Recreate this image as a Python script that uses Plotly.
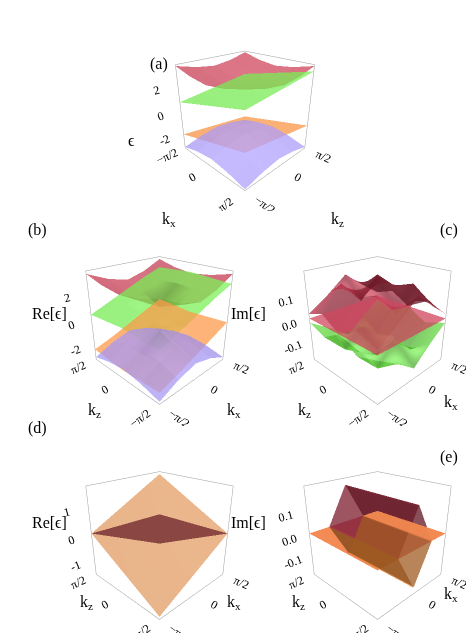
import plotly.graph_objects as go

# grid (both momenta) shared by all panels
k = [-1.571, -0.785, 0.0, 0.785, 1.571]
pi_ticks = [-1.571, 0, 1.571]
pi_text = ["−π/2", "0", "π/2"]

# (a) energies
a_red = [[3.4, 3.0, 2.8, 3.0, 3.4], [3.0, 2.6, 2.4, 2.6, 3.0], [2.8, 2.4, 2.1, 2.4, 2.8],
         [3.0, 2.6, 2.4, 2.6, 3.0], [3.4, 3.0, 2.8, 3.0, 3.4]]
a_green = [[0.6, 1.0, 1.4, 1.8, 2.2], [0.8, 1.2, 1.6, 2.0, 2.4], [1.0, 1.4, 1.8, 2.2, 2.6],
           [1.2, 1.6, 2.0, 2.4, 2.8], [1.4, 1.8, 2.2, 2.6, 3.0]]
a_orange = [[-2.2, -1.8, -1.4, -1.0, -0.6], [-2.4, -2.0, -1.6, -1.2, -0.8], [-2.6, -2.2, -1.8, -1.4, -1.0],
            [-2.8, -2.4, -2.0, -1.6, -1.2], [-3.0, -2.6, -2.2, -1.8, -1.4]]
a_purple = [[-3.4, -3.0, -2.8, -3.0, -3.4], [-3.0, -2.6, -2.4, -2.6, -3.0], [-2.8, -2.4, -2.1, -2.4, -2.8],
            [-3.0, -2.6, -2.4, -2.6, -3.0], [-3.4, -3.0, -2.8, -3.0, -3.4]]

# (b) real parts
b_red = [[3.3, 2.6, 2.2, 2.6, 3.3], [2.9, 2.1, 1.5, 2.1, 2.9], [2.7, 1.8, 0.9, 1.8, 2.7],
         [2.9, 2.1, 1.5, 2.1, 2.9], [3.3, 2.6, 2.2, 2.6, 3.3]]
b_green = [[0.3, 0.9, 1.5, 2.1, 2.6], [0.4, 1.0, 1.6, 2.2, 2.7], [0.5, 1.1, 0.9, 2.3, 2.8],
           [0.4, 1.0, 1.6, 2.2, 2.7], [0.3, 0.9, 1.5, 2.1, 2.6]]
b_orange = [[-2.6, -2.1, -1.5, -0.9, -0.3], [-2.7, -2.2, -1.6, -1.0, -0.4], [-2.8, -2.3, -0.9, -1.1, -0.5],
            [-2.7, -2.2, -1.6, -1.0, -0.4], [-2.6, -2.1, -1.5, -0.9, -0.3]]
b_purple = [[-3.3, -2.6, -2.2, -2.6, -3.3], [-2.9, -2.1, -1.5, -2.1, -2.9], [-2.7, -1.8, -0.9, -1.8, -2.7],
            [-2.9, -2.1, -1.5, -2.1, -2.9], [-3.3, -2.6, -2.2, -2.6, -3.3]]

# (c) imaginary parts
c_red = [[0.02, 0.08, 0.15, 0.08, 0.02], [0.05, 0.15, 0.05, 0.15, 0.05], [0.0, 0.12, 0.18, 0.12, 0.0],
         [0.05, 0.15, 0.05, 0.15, 0.05], [0.02, 0.08, 0.15, 0.08, 0.02]]
c_green = [[-0.02, -0.08, -0.15, -0.08, -0.02], [-0.05, -0.15, -0.05, -0.15, -0.05], [0.0, -0.12, -0.18, -0.12, 0.0],
           [-0.05, -0.15, -0.05, -0.15, -0.05], [-0.02, -0.08, -0.15, -0.08, -0.02]]
flat = [[0.0] * 5 for _ in range(5)]

# (d) real parts, two crossing planes
d_red = [[1.6, 1.2, 0.8, 0.4, 0.0], [1.2, 0.8, 0.4, 0.0, -0.4], [0.8, 0.4, 0.0, -0.4, -0.8],
         [0.4, 0.0, -0.4, -0.8, -1.2], [0.0, -0.4, -0.8, -1.2, -1.6]]
d_orange = [[-1.6, -1.2, -0.8, -0.4, 0.0], [-1.2, -0.8, -0.4, 0.0, 0.4], [-0.8, -0.4, 0.0, 0.4, 0.8],
            [-0.4, 0.0, 0.4, 0.8, 1.2], [0.0, 0.4, 0.8, 1.2, 1.6]]

# (e) imaginary parts: wall along kx = 0
e_red = [[0.0, 0.0, 0.17, 0.0, 0.0] for _ in range(5)]
e_orange = [[0.0, 0.0, -0.17, 0.0, 0.0] for _ in range(5)]

RED, GREEN, ORANGE, PURPLE = "#b0283f", "#5ed23a", "#e07e2e", "#9484e0"


def surf(z, color, scene, op=0.75):
    return go.Surface(x=k, y=k, z=z, scene=scene, showscale=False, opacity=op,
                      colorscale=[[0, color], [1, color]],
                      lighting=dict(ambient=0.55, diffuse=0.6, specular=0.1, fresnel=0.1))


fig = go.Figure()
for z, c in [(a_red, RED), (a_green, GREEN), (a_orange, ORANGE), (a_purple, PURPLE)]:
    fig.add_trace(surf(z, c, "scene"))
for z, c in [(b_red, RED), (b_green, GREEN), (b_orange, ORANGE), (b_purple, PURPLE)]:
    fig.add_trace(surf(z, c, "scene2"))
for z, c in [(c_red, RED), (c_green, GREEN), (flat, RED)]:
    fig.add_trace(surf(z, c, "scene3"))
fig.add_trace(surf(d_orange, ORANGE, "scene4", 0.6))
fig.add_trace(surf(d_red, RED, "scene4", 0.7))
for z, c in [(flat, RED), (e_red, RED), (e_orange, ORANGE)]:
    fig.add_trace(surf(z, c, "scene5"))


def ax(vals, text=None, rng=None):
    return dict(title=dict(text=""), showbackground=False,
                showgrid=False, showspikes=False, tickfont=dict(size=12),
                showline=True, linecolor="#999", mirror=True, range=rng,
                tickvals=vals, ticktext=text if text else [str(v) for v in vals])


def scene(domx, domy, zv, zr, eye):
    return dict(domain=dict(x=domx, y=domy),
                xaxis=ax(pi_ticks, pi_text, [-1.571, 1.571]),
                yaxis=ax(pi_ticks, pi_text, [-1.571, 1.571]),
                zaxis=ax(zv, None, zr),
                aspectmode="manual", aspectratio=dict(x=0.72, y=0.72, z=0.72),
                camera=dict(eye=eye))


eye_a = dict(x=1.25, y=-1.25, z=0.8)
eye_b = dict(x=-1.25, y=-1.25, z=0.8)
fig.update_layout(
    width=474, height=633, margin=dict(l=0, r=0, t=0, b=0),
    paper_bgcolor="white", showlegend=False,
    font=dict(family="Liberation Serif", color="black"),
    scene=scene([0.2, 0.8], [0.68, 1.0], [-2, 0, 2], [-3.5, 3.5], eye_a),
    scene2=scene([0.1, 0.54], [0.34, 0.68], [-2, 0, 2], [-3.5, 3.5], eye_b),
    scene3=scene([0.56, 1.0], [0.34, 0.68], [-0.1, 0.0, 0.1], [-0.2, 0.2], eye_b),
    scene4=scene([0.1, 0.54], [0.0, 0.34], [-1, 0, 1], [-1.7, 1.7], eye_b),
    scene5=scene([0.56, 1.0], [0.0, 0.34], [-0.1, 0.0, 0.1], [-0.2, 0.2], eye_b),
)

# panel labels and axis titles, in pixel positions of the 474x633 page
labels = [("(a)", 140, 45), ("(b)", 18, 222), ("(c)", 452, 222), ("(d)", 18, 420), ("(e)", 452, 460),
          ("ϵ", 118, 122), ("k<sub>x</sub>", 152, 200), ("k<sub>z</sub>", 338, 200),
          ("Re[ϵ]", 22, 305), ("k<sub>z</sub>", 78, 402), ("k<sub>x</sub>", 226, 402),
          ("Im[ϵ]", 240, 305), ("k<sub>z</sub>", 296, 402), ("k<sub>x</sub>", 452, 394),
          ("Re[ϵ]", 22, 525), ("k<sub>z</sub>", 70, 606), ("k<sub>x</sub>", 226, 606),
          ("Im[ϵ]", 240, 525), ("k<sub>z</sub>", 290, 606), ("k<sub>x</sub>", 452, 598)]
fig.update_layout(annotations=[dict(text=t, x=px / 474, y=1 - py / 633, xref="paper", yref="paper",
                                    showarrow=False, font=dict(size=16))
                               for t, px, py in labels])
fig.write_html("out.html")
